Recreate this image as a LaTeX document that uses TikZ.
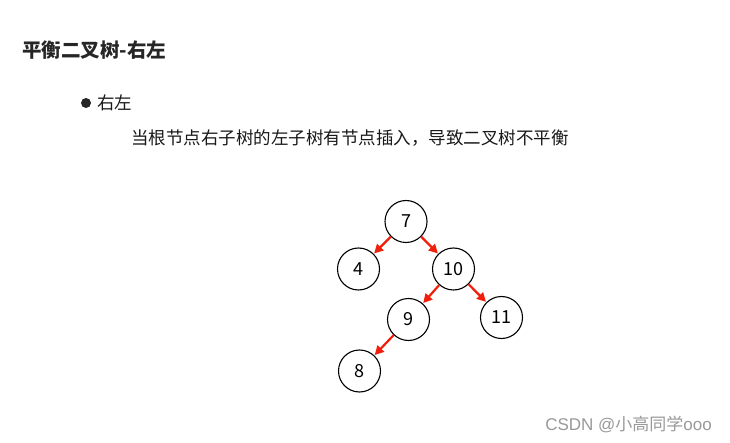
\documentclass[tikz,border=0pt]{standalone}
\usepackage{fontspec}
\setmainfont{Noto Sans CJK SC}
\newfontfamily\wmfont{Liberation Sans}
\usetikzlibrary{arrows.meta}
\definecolor{arrred}{RGB}{240,30,10}
\begin{document}
\begin{tikzpicture}[x=1pt,y=-1pt,
  tnode/.style={draw=black,line width=1.1pt,circle,minimum size=42pt,inner sep=0pt,font=\fontsize{18}{18}\selectfont},
  redarrow/.style={draw=arrred,line width=2.2pt,-{Triangle[length=9pt,width=9pt]},shorten >=0.5pt}]
\useasboundingbox (0,0) rectangle (730,443);
\fill[white] (0,0) rectangle (730,443);
\node[anchor=west,font=\fontsize{19.5}{19.5}\selectfont\bfseries,text=black!85,inner sep=0pt] (title) at (22,50) {平衡二叉树-右左};
\node[circle,fill=black!85,inner sep=0pt,minimum size=10pt] (bullet) at (86,103) {};
\node[anchor=west,font=\fontsize{17.5}{17.5}\selectfont,text=black!90,inner sep=0pt] (sub) at (97,103) {右左};
\node[anchor=west,font=\fontsize{17.5}{17.5}\selectfont,text=black!90,inner sep=0pt] (desc) at (131,138) {当根节点右子树的左子树有节点插入，导致二叉树不平衡};
\node[tnode] (n7) at (406,221.5) {7};
\node[tnode] (n4) at (358.5,269) {4};
\node[tnode] (n10) at (453.5,269) {10};
\node[tnode] (n9) at (408.5,319.5) {9};
\node[tnode] (n11) at (501.5,317.5) {11};
\node[tnode] (n8) at (359.5,371) {8};
\draw[redarrow] (n7) -- (n4);
\draw[redarrow] (n7) -- (n10);
\draw[redarrow] (n10) -- (n9);
\draw[redarrow] (n10) -- (n11);
\draw[redarrow] (n9) -- (n8);
\node[anchor=east,text=black!40,inner sep=0pt] (wm) at (712,424) {\fontsize{17}{17}\selectfont\wmfont CSDN @\rmfamily 小高同学\wmfont ooo};
\end{tikzpicture}
\end{document}
